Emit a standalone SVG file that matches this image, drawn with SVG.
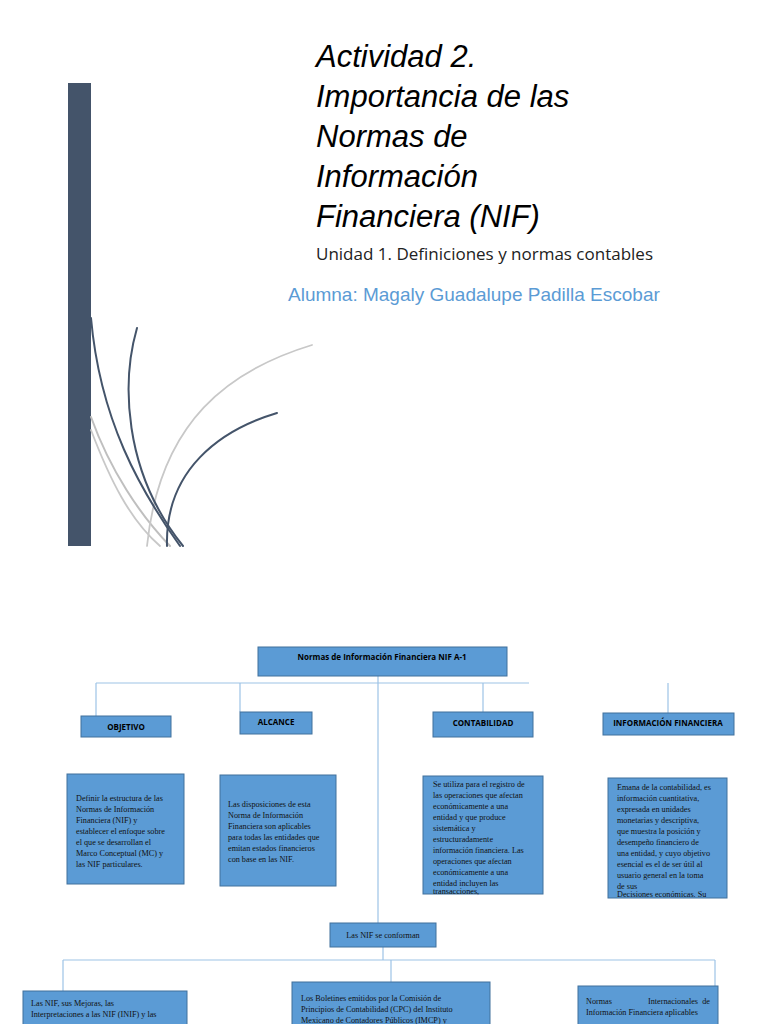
<svg xmlns="http://www.w3.org/2000/svg" width="768" height="1024" viewBox="0 0 768 1024">
<style>
.b{fill:#5b9bd5;stroke:#41719c;stroke-width:1}
.h{font-family:"Open Sans","Liberation Sans",sans-serif;font-size:8px;font-weight:bold;fill:#000}
.t{font-family:"Liberation Serif",serif;font-size:8.2px;fill:#111}
.c{stroke:#9dc3e6;stroke-width:1.2;fill:none}
.title{font-family:"Liberation Sans",Arial,sans-serif;font-size:31px;font-style:italic;fill:#000}
</style>
<rect width="768" height="1024" fill="#fff"/>
<g id="decor" fill="none" stroke-linecap="round">
<rect x="68" y="83" width="23" height="463" fill="#44546a" stroke="none"/>
<path d="M91,417 C110,470 140,515 170,546" stroke="#bfbfbf" stroke-width="2"/>
<path d="M312,345 C230,370 160,420 147,546" stroke="#c8c8c8" stroke-width="1.8"/>
<path d="M91,318 C100,420 140,490 180,546" stroke="#44546a" stroke-width="2"/>
<path d="M137,328 C122,380 122,470 183,546" stroke="#44546a" stroke-width="2"/>
<path d="M277,413 C220,430 165,470 167,546" stroke="#44546a" stroke-width="2"/>
<path d="M91,430 C110,480 130,520 160,546" stroke="#c8c8c8" stroke-width="1.8"/>
</g>
<g id="header">
<text class="title" x="316" y="67">Actividad 2.</text>
<text class="title" x="316" y="107">Importancia de las</text>
<text class="title" x="316" y="147">Normas de</text>
<text class="title" x="316" y="187">Información</text>
<text class="title" x="316" y="227">Financiera (NIF)</text>
<text x="316" y="260" font-family="Open Sans,Liberation Sans,sans-serif" font-size="17" fill="#222">Unidad 1. Definiciones y normas contables</text>
<text x="288" y="301" font-family="Liberation Sans,Arial,sans-serif" font-size="19" fill="#5b9bd5">Alumna: Magaly Guadalupe Padilla Escobar</text>
</g>
<g id="connectors">
<path class="c" d="M96,683 H529 M96,683 V716 M240,683 V712 M483,683 V712 M668,683 V713 M378,676 V923 M383,947 V960 M63,960 H715 M63,960 V991 M391,960 V982 M715,960 V986"/>
</g>
<g id="root"><rect class="b" x="258" y="647" width="249" height="29"/><text class="h" x="382" y="660" text-anchor="middle">Normas de Información Financiera NIF A-1</text></g>
<g id="objetivo"><rect class="b" x="81" y="716" width="90" height="21"/><text class="h" x="126" y="730" text-anchor="middle" font-size="7">OBJETIVO</text></g>
<g id="alcance"><rect class="b" x="240" y="712" width="72" height="22"/><text class="h" x="276" y="725" text-anchor="middle">ALCANCE</text></g>
<g id="contabilidad"><rect class="b" x="433" y="712" width="100" height="25"/><text class="h" x="483" y="726" text-anchor="middle">CONTABILIDAD</text></g>
<g id="informacion"><rect class="b" x="603" y="713" width="131" height="22"/><text class="h" x="668" y="726" text-anchor="middle">INFORMACIÓN FINANCIERA</text></g>
<g id="obj-det"><rect class="b" x="67" y="774" width="117" height="110"/>
<text class="t" x="76" y="801">Definir la estructura de las</text><text class="t" x="76" y="812">Normas de Información</text><text class="t" x="76" y="823">Financiera (NIF) y</text><text class="t" x="76" y="834">establecer el enfoque sobre</text><text class="t" x="76" y="845">el que se desarrollan el</text><text class="t" x="76" y="856">Marco Conceptual (MC) y</text><text class="t" x="76" y="867">las NIF particulares.</text></g>
<g id="alc-det"><rect class="b" x="220" y="775" width="116" height="111"/>
<text class="t" x="228" y="807">Las disposiciones de esta</text><text class="t" x="228" y="818">Norma de Información</text><text class="t" x="228" y="829">Financiera son aplicables</text><text class="t" x="228" y="840">para todas las entidades que</text><text class="t" x="228" y="851">emitan estados financieros</text><text class="t" x="228" y="862">con base en las NIF.</text></g>
<g id="cont-det"><rect class="b" x="423" y="776" width="120" height="118"/>
<text class="t" x="433" y="787">Se utiliza para el registro de</text><text class="t" x="433" y="798">las operaciones que afectan</text><text class="t" x="433" y="809">económicamente a una</text><text class="t" x="433" y="820">entidad y que produce</text><text class="t" x="433" y="831">sistemática y</text><text class="t" x="433" y="842">estructuradamente</text><text class="t" x="433" y="853">información financiera. Las</text><text class="t" x="433" y="864">operaciones que afectan</text><text class="t" x="433" y="875">económicamente a una</text><text class="t" x="433" y="886">entidad incluyen las</text><text class="t" x="433" y="894" clip-path="url(#none)">transacciones,</text></g>
<g id="info-det"><rect class="b" x="608" y="778" width="119" height="120"/>
<text class="t" x="617" y="790">Emana de la contabilidad, es</text><text class="t" x="617" y="801">información cuantitativa,</text><text class="t" x="617" y="812">expresada en unidades</text><text class="t" x="617" y="823">monetarias y descriptiva,</text><text class="t" x="617" y="834">que muestra la posición y</text><text class="t" x="617" y="845">desempeño financiero de</text><text class="t" x="617" y="856">una entidad, y cuyo objetivo</text><text class="t" x="617" y="867">esencial es el de ser útil al</text><text class="t" x="617" y="878">usuario general en la toma</text><text class="t" x="617" y="889">de sus</text><text class="t" x="617" y="897">Decisiones económicas. Su</text></g>
<g id="conforman"><rect class="b" x="330" y="923" width="106" height="24"/><text class="t" x="383" y="938" text-anchor="middle">Las NIF se conforman</text></g>
<g id="nif"><rect class="b" x="23" y="991" width="164" height="40"/>
<text class="t" x="31" y="1006">Las NIF, sus Mejoras, las</text><text class="t" x="31" y="1017">Interpretaciones a las NIF (INIF) y las</text></g>
<g id="boletines"><rect class="b" x="292" y="982" width="198" height="50"/>
<text class="t" x="301" y="1001">Los Boletines emitidos por la Comisión de</text><text class="t" x="301" y="1012">Principios de Contabilidad (CPC) del Instituto</text><text class="t" x="301" y="1023">Mexicano de Contadores Públicos (IMCP) y</text></g>
<g id="niif"><rect class="b" x="578" y="986" width="140" height="46"/>
<text class="t" x="586" y="1004">Normas</text><text class="t" x="648" y="1004">Internacionales</text><text class="t" x="710" y="1004" text-anchor="end">de</text><text class="t" x="586" y="1015">Información Financiera aplicables</text></g>
</svg>
